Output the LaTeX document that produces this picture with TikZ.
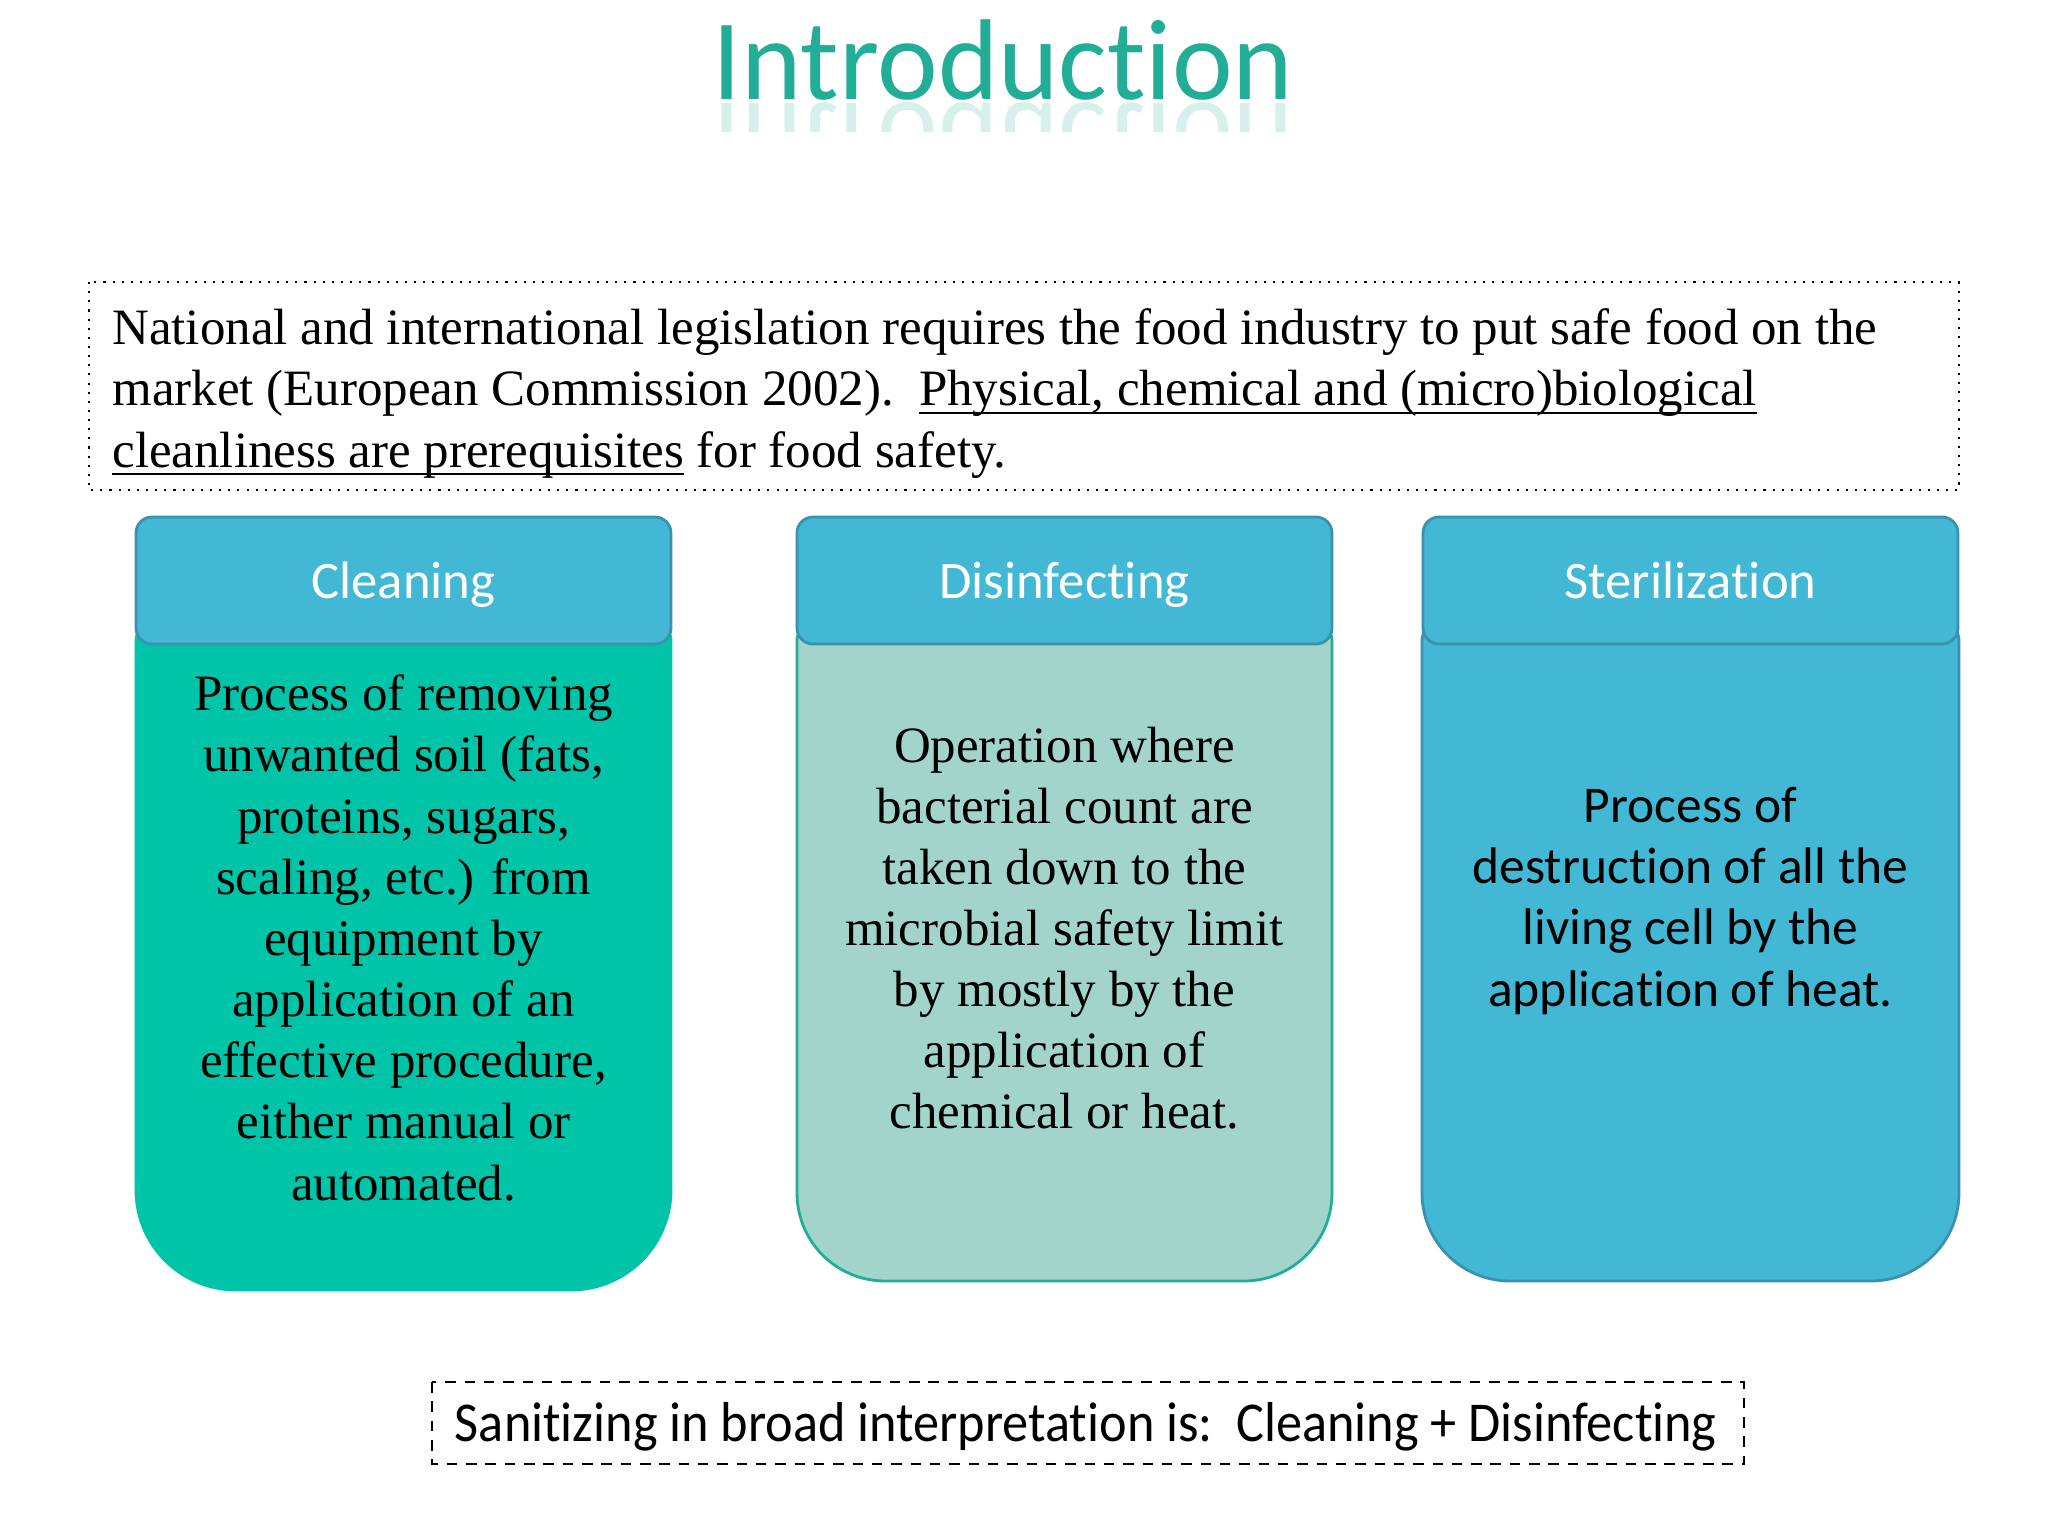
\documentclass[tikz,border=0pt]{standalone}
\usepackage{fontspec}
\setmainfont{Liberation Serif}
\newfontfamily\calib[Ligatures=NoCommon]{Carlito}
\newfontfamily\calibnarrow[Ligatures=NoCommon,FakeStretch=0.93]{Carlito}
\newsavebox\ulbox
\newcommand\legisul[1]{\sbox\ulbox{#1}\rlap{\rule[-2.3pt]{\wd\ulbox}{0.55pt}}\usebox\ulbox}
\definecolor{headblue}{HTML}{42B8D4}
\definecolor{headline}{HTML}{3A92AC}
\definecolor{cleangreen}{HTML}{00C4A8}
\definecolor{disinfill}{HTML}{A3D4CC}
\definecolor{disinline}{HTML}{20AE98}
\definecolor{titleteal}{HTML}{22AD97}

\begin{document}
\begin{tikzpicture}[line width=0.8pt,
  head/.style={draw=headline,fill=headblue,rounded corners=0.16cm,
    minimum width=5.35cm,minimum height=1.27cm,text=white,
    text height=12pt,text depth=1.5pt,
    font=\calib\fontsize{15}{18}\selectfont},
  serifbody/.style={align=center,font=\fontsize{14.5}{17.4}\selectfont},
  sansbody/.style={align=center,font=\calib\fontsize{14.65}{17.4}\selectfont},
  titlefont/.style={text=titleteal,font=\calib\fontsize{32.7}{38}\selectfont}]
\useasboundingbox (0,0) rectangle (20.48,-15.36);
\fill[white] (0,0) rectangle (20.48,-15.36);
% ---- title with its faint reflection ----
\node[titlefont,anchor=base] (title) at (10.03,-1.00) {Introduction};
\begin{scope}
  \clip (6,-1.02) rectangle (14,-1.32);
  \node[titlefont,text opacity=0.18,anchor=base,yscale=-1] (titlemirror) at (10.03,-1.04) {Introduction};
\end{scope}
% ---- legislation box ----
\draw[dotted,line width=0.6pt] (0.89,-2.82) rectangle (19.59,-4.90);
\node[anchor=base west,align=left,inner sep=0pt,font=\fontsize{14.5}{17.4}\selectfont] (legis) at (1.11,-4.67)
  {National and international legislation requires the food industry to put safe food on the\\
   market (European Commission 2002).\ \ \legisul{Physical, chemical and (micro)biological}\\
   \legisul{cleanliness are prerequisites} for food safety.};
% ---- column 1 : cleaning ----
\draw[draw=cleangreen,fill=cleangreen] (1.36,-11.9) -- (1.36,-6.4) arc[start angle=180,end angle=90,radius=0.15]
  -- (6.56,-6.25) arc[start angle=90,end angle=0,radius=0.15] -- (6.71,-11.9)
  arc[start angle=0,end angle=-90,radius=1.0] -- (2.36,-12.9) arc[start angle=270,end angle=180,radius=1.0] -- cycle;
\node[head] (cleanhead) at (4.035,-5.805) {Cleaning};
\node[serifbody,anchor=base] (cleantxt) at (4.035,-12.0)
  {Process of removing\\unwanted soil (fats,\\proteins, sugars,\\scaling, etc.) from\\equipment by\\
   application of an\\effective procedure,\\either manual or\\automated.};
% ---- column 2 : disinfecting ----
\draw[draw=disinline,fill=disinfill] (7.97,-11.93) -- (7.97,-6.4) arc[start angle=180,end angle=90,radius=0.15]
  -- (13.17,-6.25) arc[start angle=90,end angle=0,radius=0.15] -- (13.32,-11.93)
  arc[start angle=0,end angle=-90,radius=0.88] -- (8.85,-12.81) arc[start angle=270,end angle=180,radius=0.88] -- cycle;
\node[head] (disinhead) at (10.645,-5.805) {Disinfecting};
\node[serifbody,anchor=base] (disintxt) at (10.645,-11.29)
  {Operation where\\bacterial count are\\taken down to the\\microbial safety limit\\by mostly by the\\
   application of\\chemical or heat.};
% ---- column 3 : sterilization ----
\draw[draw=headline,fill=headblue] (14.22,-11.93) -- (14.22,-6.4) arc[start angle=180,end angle=90,radius=0.15]
  -- (19.44,-6.25) arc[start angle=90,end angle=0,radius=0.15] -- (19.59,-11.93)
  arc[start angle=0,end angle=-90,radius=0.88] -- (15.10,-12.81) arc[start angle=270,end angle=180,radius=0.88] -- cycle;
\node[head] (sterhead) at (16.905,-5.805) {Sterilization};
\node[sansbody,anchor=base] (stertxt) at (16.905,-10.06)
  {Process of\\destruction of all the\\living cell by the\\application of heat.};
% ---- sanitizing box ----
\draw[dash pattern=on 3pt off 2.5pt,line width=0.7pt] (4.32,-13.82) rectangle (17.44,-14.64);
\node[anchor=base,font=\calibnarrow\fontsize{16}{19}\selectfont] (sanit) at (10.86,-14.41)
  {Sanitizing in broad interpretation is:\ \ Cleaning + Disinfecting};
\end{tikzpicture}
\end{document}
